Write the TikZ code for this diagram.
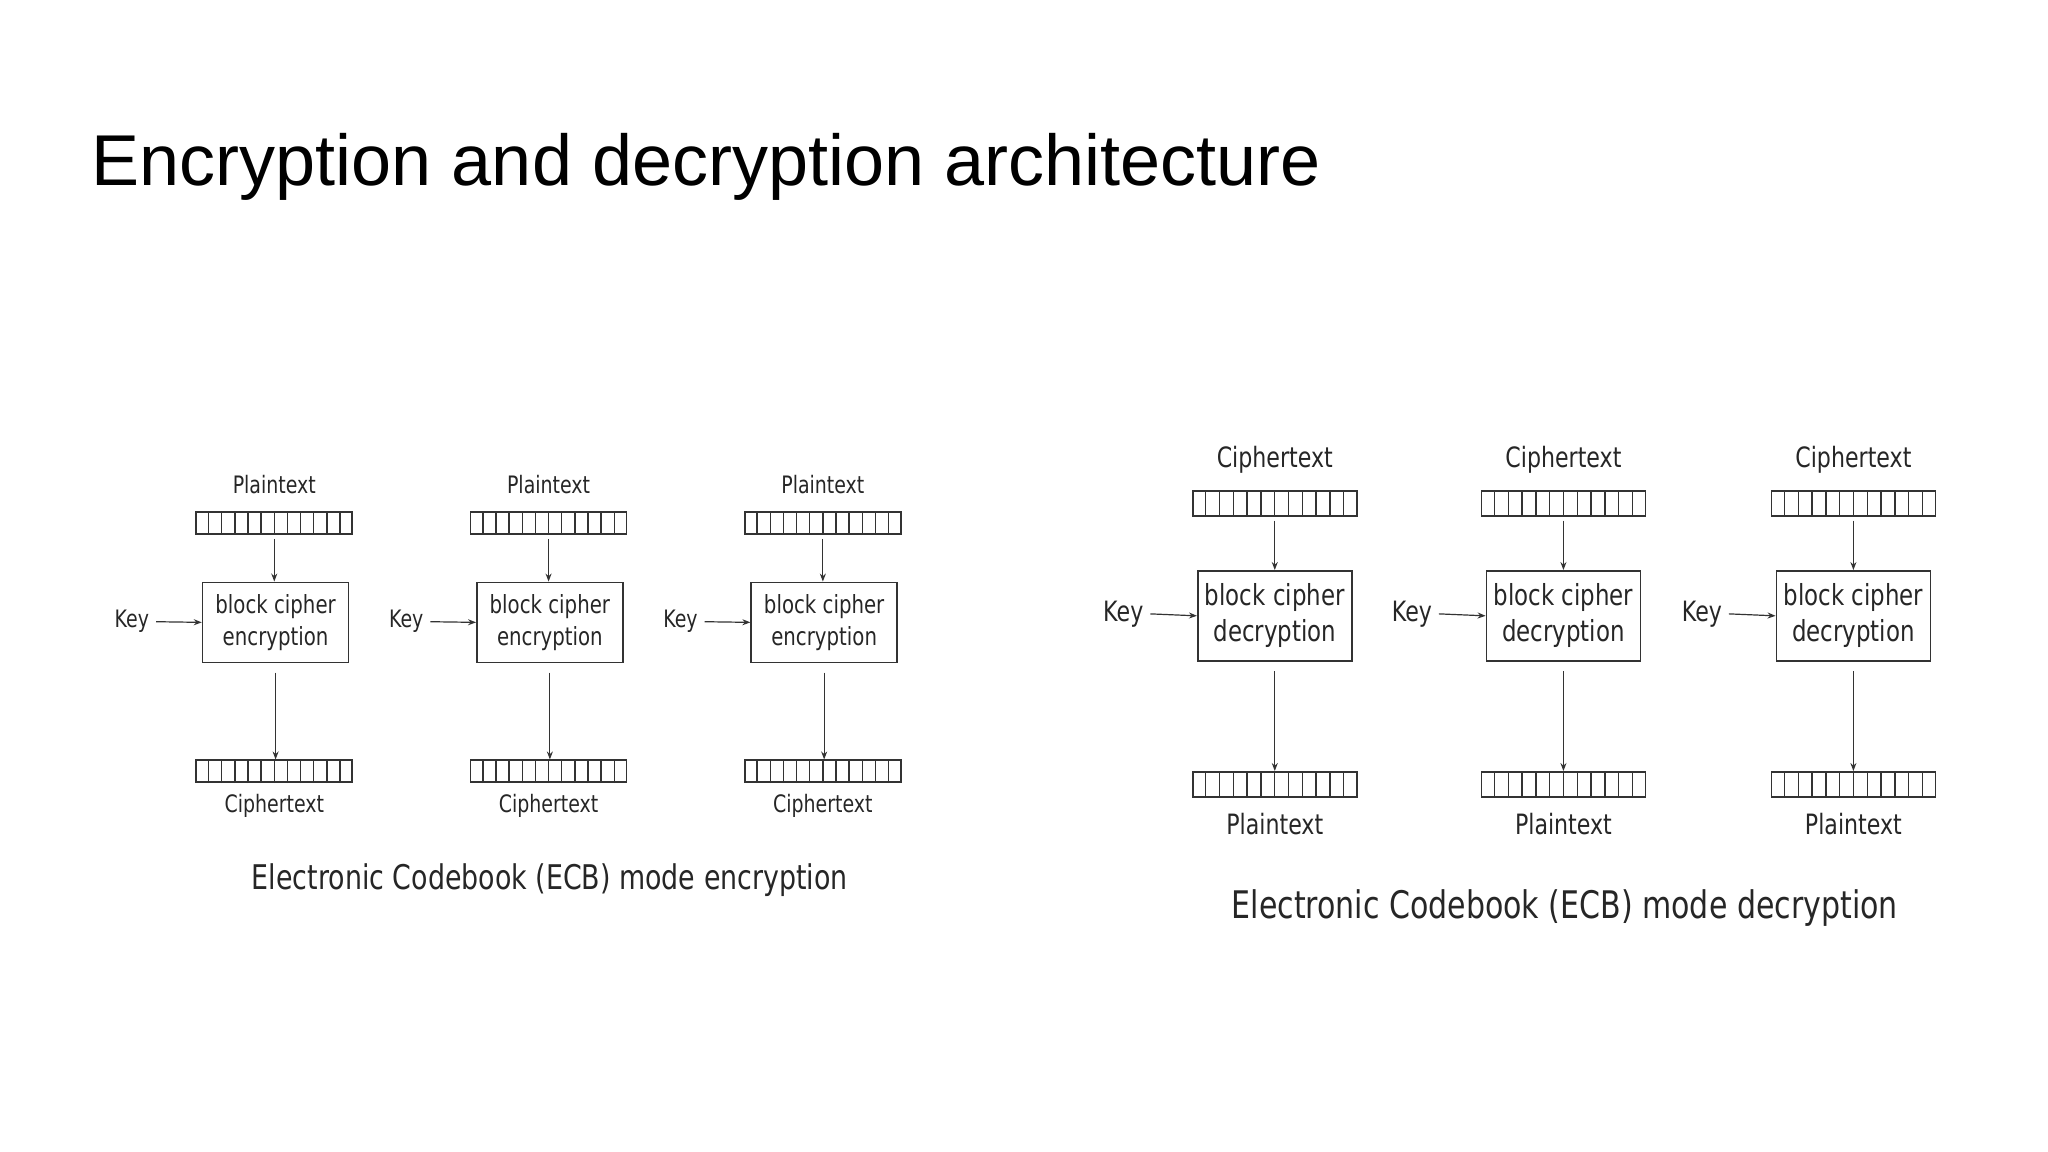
\documentclass[tikz,border=0pt]{standalone}
\usepackage{fontspec}
\setmainfont{Liberation Sans}
\newfontfamily\diag{DejaVu Sans}[FakeStretch=0.79]
\usetikzlibrary{calc,arrows.meta}
\begin{document}
\begin{tikzpicture}[x=0.653pt,y=-0.653pt,>={Stealth[length=4pt,width=3pt]},draw=black!80]
    \tikzstyle{register}=[draw,line width=0.8pt,inner sep=0pt,minimum height=11pt]
    \tikzstyle{cipher}=[draw,line width=0.8pt,inner sep=0pt,align=center,text=black!85]
    \tikzstyle{lbl}=[text=black!85,inner sep=0pt]
    \useasboundingbox (0,0) rectangle (1568,882);
    \node[anchor=west,inner sep=0pt,font=\fontsize{36}{40}\selectfont] (title) at (70,128) {Encryption and decryption architecture};
    % Encryption layer
    \foreach \n/\x in {1/210,2/420,3/630} {
      \node[lbl,font=\diag\fontsize{12}{14}\selectfont] (pe\n) at (\x,371) {Plaintext};
      \node[register,minimum width=78pt] (re\n) at (\x,400.5) {};
      \node[cipher,minimum width=73pt,minimum height=40pt,font=\diag\fontsize{12.5}{16}\selectfont] (be\n) at (\x+1,476.5) {block cipher\\encryption};
      \node[lbl,font=\diag\fontsize{12}{14}\selectfont] (ke\n) at (\x-109,476) {Key};
      \node[register,minimum width=78pt] (se\n) at (\x,590.5) {};
      \node[lbl,font=\diag\fontsize{12}{14}\selectfont] (ce\n) at (\x,617) {Ciphertext};
      \foreach \i in {1,...,11} {
        \draw[line width=0.7pt] ($(re\n.south west)!\i/12!(re\n.south east)$) -- ($(re\n.north west)!\i/12!(re\n.north east)$);
        \draw[line width=0.7pt] ($(se\n.south west)!\i/12!(se\n.south east)$) -- ($(se\n.north west)!\i/12!(se\n.north east)$);
      }
      \draw[->,line width=0.6pt] (re\n.south) ++(0,3) -- (re\n.south |- be\n.north);
      \draw[->,line width=0.6pt] (ke\n.east) ++(5,0) -- (be\n.west);
      \draw[->,line width=0.6pt] (be\n.south |- 0,515) -- (be\n.south |- se\n.north);
    }
    \node[lbl,font=\diag\fontsize{17}{20}\selectfont] (cape) at (421,674) {Electronic Codebook (ECB) mode encryption};
    % Decryption layer
    \foreach \n/\x in {1/976,2/1197,3/1419} {
      \node[lbl,font=\diag\fontsize{14}{16}\selectfont] (cd\n) at (\x,352) {Ciphertext};
      \node[register,minimum width=82pt,minimum height=12.5pt] (rd\n) at (\x,385.5) {};
      \node[cipher,minimum width=77pt,minimum height=45pt,font=\diag\fontsize{14.5}{18}\selectfont] (bd\n) at (\x,471.5) {block cipher\\decryption};
      \node[lbl,font=\diag\fontsize{14}{16}\selectfont] (kd\n) at (\x-116,470) {Key};
      \node[register,minimum width=82pt,minimum height=12.5pt] (sd\n) at (\x,600.5) {};
      \node[lbl,font=\diag\fontsize{14}{16}\selectfont] (pd\n) at (\x,631) {Plaintext};
      \foreach \i in {1,...,11} {
        \draw[line width=0.7pt] ($(rd\n.south west)!\i/12!(rd\n.south east)$) -- ($(rd\n.north west)!\i/12!(rd\n.north east)$);
        \draw[line width=0.7pt] ($(sd\n.south west)!\i/12!(sd\n.south east)$) -- ($(sd\n.north west)!\i/12!(sd\n.north east)$);
      }
      \draw[->,line width=0.6pt] (rd\n.south) ++(0,3) -- (rd\n.south |- bd\n.north);
      \draw[->,line width=0.6pt] (kd\n.east) ++(5,0) -- (bd\n.west);
      \draw[->,line width=0.6pt] (bd\n.south |- 0,514) -- (bd\n.south |- sd\n.north);
    }
    \node[lbl,font=\diag\fontsize{19}{22}\selectfont] (capd) at (1198,695) {Electronic Codebook (ECB) mode decryption};
\end{tikzpicture}
\end{document}
